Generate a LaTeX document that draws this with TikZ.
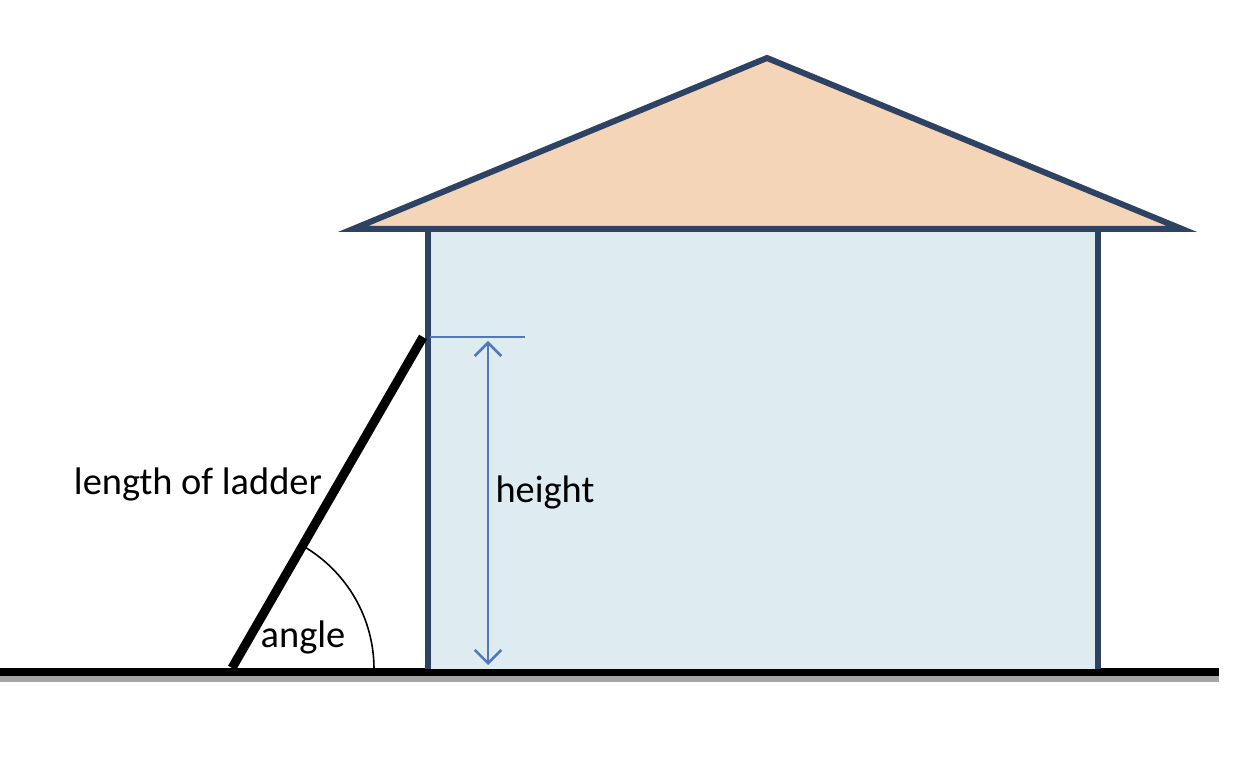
\documentclass[tikz,border=0pt]{standalone}
\usepackage{fontspec}
\setmainfont{Carlito}
\usetikzlibrary{arrows.meta}
\definecolor{navy}{HTML}{2E4263}
\definecolor{wallfill}{HTML}{DEECF2}
\definecolor{rooffill}{HTML}{F4D5B8}
\definecolor{measure}{HTML}{5079BC}
\definecolor{shadow}{HTML}{A5A5A5}
\tikzset{
  outline/.style={draw=navy, line width=4.5pt, line join=miter},
  ladderline/.style={line width=6.8pt},
  measureline/.style={draw=measure, line width=1.9pt},
  lbl/.style={font=\fontsize{28.8}{34}\selectfont, inner sep=0pt}
}
\begin{document}
\begin{tikzpicture}[x=0.75pt, y=-0.75pt]
\useasboundingbox (0,0) rectangle (1258,762);
% ground
\draw[shadow, line width=3.8pt] (0,679) -- (1219,679);
\draw[line width=5.3pt] (0,672) -- (1219,672);
% wall
\draw[outline, fill=wallfill] (428,669) -- (428,228) -- (1098,228) -- (1098,669);
% roof
\draw[outline, fill=rooffill] (353,229) -- (767,58) -- (1182,229) -- cycle;
% ladder
\coordinate (foot) at (232,668);
\coordinate (top) at (423,337);
\draw[ladderline] (foot) -- (top);
% angle arc
\draw[line width=1.2pt] (374,669) arc[start angle=0, end angle=-59.9, radius=142];
% height measure
\coordinate (tickL) at (430,337);
\coordinate (tickR) at (525,337);
\draw[measureline] (tickL) -- (tickR);
\coordinate (atop) at (488,341);
\coordinate (abot) at (488,665);
\draw[measureline, {Straight Barb[length=10pt,width=20pt,line width=1.9pt]}-{Straight Barb[length=10pt,width=20pt,line width=1.9pt]}] (atop) -- (abot);
% labels
\node[lbl] (h) at (545,492) {height};
\node[lbl] (l) at (198,484) {length of ladder};
\node[lbl] (a) at (303,637) {angle};
\end{tikzpicture}
\end{document}
